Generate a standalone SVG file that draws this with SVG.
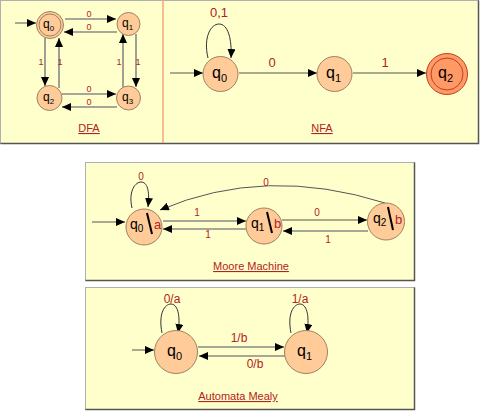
<svg xmlns="http://www.w3.org/2000/svg" width="480" height="411" viewBox="0 0 480 411">
<defs>
<marker id="ah" markerWidth="9" markerHeight="8" refX="9" refY="4" orient="auto" markerUnits="userSpaceOnUse">
<path d="M0,0 L9,4 L0,8 Z" fill="#000"/>
</marker>
</defs>
<style>
.panel{fill:#FFFFCC;stroke:#B0B0B0;stroke-width:1}
.shadow{stroke:#555;stroke-width:1.5;fill:none}
.node{fill:#FFCC99;stroke:#A08060;stroke-width:1}
.acc{fill:#FF9966;stroke:#C04020;stroke-width:1}
.e{stroke:#888;stroke-width:1.6;fill:none;marker-end:url(#ah)}
.en{stroke:#555;stroke-width:1;fill:none;marker-end:url(#ah)}
.lp{stroke:#333;stroke-width:1;fill:none;marker-end:url(#ah)}
.lbl{font-family:"Liberation Sans",Arial,sans-serif;fill:#B22222;text-anchor:middle}
.nt{font-family:"Liberation Sans",Arial,sans-serif;fill:#000}
.out{font-family:"Liberation Sans",Arial,sans-serif;fill:#B22222}
.title{font-family:"Liberation Sans",Arial,sans-serif;fill:#B22222;text-anchor:middle;font-size:11px;text-decoration:underline}
.sl{stroke:#000;stroke-width:2}
</style>
<rect width="480" height="411" fill="#fff"/>
<g id="panels">
<rect class="panel" x="0.5" y="0.5" width="478" height="143"/>
<path class="shadow" d="M478.5,0.5 V143.5 H0.5"/>
<line x1="163" y1="0" x2="163" y2="143" stroke="#F4A582" stroke-width="1.5"/>
<rect class="panel" x="85.5" y="162.5" width="329" height="118"/>
<path class="shadow" d="M414.5,162.5 V280.5 H85.5"/>
<rect class="panel" x="85.5" y="287.5" width="329" height="122"/>
<path class="shadow" d="M414.5,287.5 V409.5 H85.5"/>
</g>
<g id="connectors">
<!-- DFA -->
<line class="en" x1="15" y1="23" x2="36" y2="23"/>
<line class="e" x1="65" y1="19" x2="116" y2="19"/>
<line class="e" x1="117" y1="32" x2="64" y2="32"/>
<line class="e" x1="45" y1="38" x2="45" y2="86"/>
<line class="e" x1="59" y1="88" x2="59" y2="38"/>
<line class="e" x1="136" y1="34" x2="136" y2="87"/>
<line class="e" x1="123" y1="88" x2="123" y2="34"/>
<line class="e" x1="62" y1="94" x2="116" y2="94"/>
<line class="e" x1="117" y1="107" x2="62" y2="107"/>
<text class="lbl" x="89" y="17" font-size="9">0</text>
<text class="lbl" x="89" y="30" font-size="9">0</text>
<text class="lbl" x="41" y="65" font-size="9">1</text>
<text class="lbl" x="60" y="65" font-size="9">1</text>
<text class="lbl" x="119" y="65" font-size="9">1</text>
<text class="lbl" x="138" y="65" font-size="9">1</text>
<text class="lbl" x="89" y="92" font-size="9">0</text>
<text class="lbl" x="89" y="105" font-size="9">0</text>
<!-- NFA -->
<line class="en" x1="170" y1="73" x2="203" y2="73"/>
<line class="en" x1="239" y1="73" x2="317" y2="73"/>
<line class="en" x1="353" y1="73" x2="426" y2="73"/>
<path class="lp" d="M208,58 C203,37 211,24 219,24 C228,24 232,39 231,58"/>
<text class="lbl" x="219" y="17" font-size="13">0,1</text>
<text class="lbl" x="272" y="67" font-size="13">0</text>
<text class="lbl" x="385" y="67" font-size="13">1</text>
<!-- Moore -->
<line class="en" x1="92" y1="222" x2="125" y2="222"/>
<line class="e" x1="163" y1="221" x2="246" y2="221"/>
<line class="e" x1="246" y1="229" x2="163" y2="229"/>
<line class="en" x1="282" y1="220" x2="367" y2="220"/>
<line class="e" x1="368" y1="231" x2="283" y2="231"/>
<path class="lp" d="M132,208 C128,190 136,182 141,182 C147,182 150,190 148,207"/>
<path class="en" d="M385,203 Q265,165 160,210"/>
<text class="lbl" x="141" y="180" font-size="10">0</text>
<text class="lbl" x="266" y="186" font-size="10">0</text>
<text class="lbl" x="197" y="216" font-size="10">1</text>
<text class="lbl" x="208" y="238" font-size="10">1</text>
<text class="lbl" x="317" y="216" font-size="10">0</text>
<text class="lbl" x="328" y="243" font-size="10">1</text>
<!-- Mealy -->
<line class="en" x1="132" y1="350" x2="154" y2="350"/>
<line class="e" x1="198" y1="347" x2="284" y2="347"/>
<line class="e" x1="285" y1="356" x2="199" y2="356"/>
<path class="lp" d="M162,333 C158,313 165,304 171,304 C177,304 181,314 178,333"/>
<path class="lp" d="M291,333 C287,313 294,304 300,304 C306,304 310,314 307,333"/>
<text class="lbl" x="172" y="303" font-size="12">0/a</text>
<text class="lbl" x="300" y="303" font-size="12">1/a</text>
<text class="lbl" x="239" y="342" font-size="12">1/b</text>
<text class="lbl" x="255" y="368" font-size="12">0/b</text>
</g>
<g id="dfa-q0"><circle class="node" cx="50" cy="25" r="13.5"/><circle fill="none" stroke="#A08060" cx="50" cy="25" r="11"/><text class="nt" x="43" y="28" font-size="12">q<tspan font-size="8" dy="3">0</tspan></text></g>
<g id="dfa-q1"><circle class="node" cx="128.5" cy="24" r="11.5"/><text class="nt" x="122" y="27" font-size="12">q<tspan font-size="8" dy="3">1</tspan></text></g>
<g id="dfa-q2"><circle class="node" cx="49.5" cy="98" r="12.5"/><text class="nt" x="43" y="101" font-size="12">q<tspan font-size="8" dy="3">2</tspan></text></g>
<g id="dfa-q3"><circle class="node" cx="128.5" cy="98" r="12"/><text class="nt" x="122" y="101" font-size="12">q<tspan font-size="8" dy="3">3</tspan></text></g>
<text class="title" x="89" y="132">DFA</text>
<g id="nfa-q0"><circle class="node" cx="220.5" cy="74" r="17.5"/><text class="nt" x="212" y="78" font-size="16">q<tspan font-size="11" dy="4">0</tspan></text></g>
<g id="nfa-q1"><circle class="node" cx="334.5" cy="74" r="17.5"/><text class="nt" x="326" y="78" font-size="16">q<tspan font-size="11" dy="4">1</tspan></text></g>
<g id="nfa-q2"><circle class="acc" cx="447" cy="74" r="20.5"/><circle fill="none" stroke="#C04020" cx="447" cy="74" r="16"/><text class="nt" x="438" y="78" font-size="16">q<tspan font-size="11" dy="4">2</tspan></text></g>
<text class="title" x="322" y="132">NFA</text>
<g id="moore-q0"><circle class="node" cx="144" cy="227" r="18"/><text class="nt" x="130" y="229" font-size="14">q<tspan font-size="10" dy="3">0</tspan></text><line class="sl" x1="147" y1="213" x2="152" y2="234"/><text class="out" x="154" y="229" font-size="13">a</text></g>
<g id="moore-q1"><circle class="node" cx="264" cy="226" r="18"/><text class="nt" x="251" y="228" font-size="14">q<tspan font-size="10" dy="3">1</tspan></text><line class="sl" x1="267" y1="212" x2="272" y2="233"/><text class="out" x="274" y="228" font-size="13">b</text></g>
<g id="moore-q2"><circle class="node" cx="386" cy="221.5" r="18.5"/><text class="nt" x="373" y="223" font-size="14">q<tspan font-size="10" dy="3">2</tspan></text><line class="sl" x1="388" y1="207" x2="393" y2="230"/><text class="out" x="395" y="224" font-size="13">b</text></g>
<text class="title" x="251" y="270">Moore Machine</text>
<g id="mealy-q0"><circle class="node" cx="176" cy="352" r="21.5"/><text class="nt" x="167" y="356" font-size="16">q<tspan font-size="11" dy="4">0</tspan></text></g>
<g id="mealy-q1"><circle class="node" cx="306" cy="352" r="21.5"/><text class="nt" x="297" y="356" font-size="16">q<tspan font-size="11" dy="4">1</tspan></text></g>
<text class="title" x="238" y="400">Automata Mealy</text>
</svg>
